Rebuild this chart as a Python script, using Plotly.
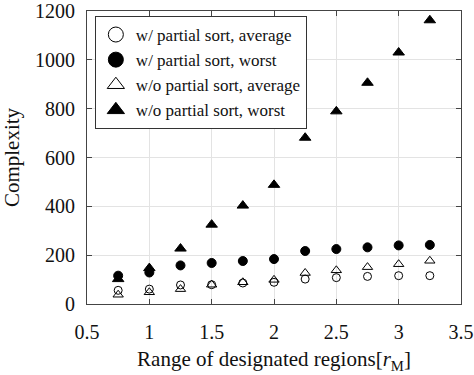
import plotly.graph_objects as go

x_vals = [0.75, 1.0, 1.25, 1.5, 1.75, 2.0, 2.25, 2.5, 2.75, 3.0, 3.25]
ps_avg = [56, 61, 78, 79, 86, 89, 102, 108, 113, 116, 116]
ps_worst = [116, 129, 158, 168, 176, 184, 217, 225, 232, 240, 242]
nops_avg = [38, 48, 61, 79, 89, 99, 127, 138, 151, 163, 177]
nops_worst = [102, 147, 227, 325, 403, 488, 681, 789, 906, 1030, 1162]

names = ["w/ partial sort, average", "w/ partial sort, worst",
         "w/o partial sort, average", "w/o partial sort, worst"]
series = [ps_avg, ps_worst, nops_avg, nops_worst]
symbols = ["circle-open", "circle", "triangle-up-open", "triangle-up"]
sizes = [8, 9, 9, 10]

x_ticks = [0.5, 1, 1.5, 2, 2.5, 3, 3.5]
x_tick_text = ["0.5", "1", "1.5", "2", "2.5", "3", "3.5"]
y_ticks = [0, 200, 400, 600, 800, 1000, 1200]

font_family = "Liberation Serif, Times New Roman, serif"

fig = go.Figure()
for ys, sym, sz in zip(series, symbols, sizes):
    fig.add_trace(go.Scatter(
        x=x_vals, y=ys, mode="markers", showlegend=False,
        marker=dict(symbol=sym, size=sz, color="black",
                    line=dict(color="black", width=1)),
    ))
for name, sym in zip(names, symbols):
    fig.add_trace(go.Scatter(
        x=[None], y=[None], mode="markers", name=name,
        marker=dict(symbol=sym, size=15, color="black",
                    line=dict(color="black", width=1)),
    ))

axis_common = dict(
    showline=True, linecolor="#444", linewidth=1, mirror="ticks",
    ticks="inside", ticklen=5, tickcolor="#444",
    showgrid=True, gridcolor="#e3e3e3", gridwidth=1, zeroline=False,
    automargin=False,
    tickfont=dict(family=font_family, size=20, color="#111"),
)

fig.update_layout(
    width=474, height=375,
    margin=dict(l=87, r=13, t=11, b=71),
    paper_bgcolor="white", plot_bgcolor="white",
    font=dict(family=font_family, size=20, color="#111"),
    xaxis=dict(range=[0.5, 3.5], tickvals=x_ticks, ticktext=x_tick_text,
               ticklabelstandoff=10,
               title=dict(text="Range of designated regions[<i>r</i><sub>M</sub>]",
                          font=dict(family=font_family, size=21), standoff=9),
               **axis_common),
    yaxis=dict(range=[0, 1200], tickvals=y_ticks, ticklabelstandoff=7,
               title=dict(text="Complexity", font=dict(family=font_family, size=21),
                          standoff=14),
               **axis_common),
    legend=dict(x=0.021, y=0.983, xanchor="left", yanchor="top",
                bgcolor="white", bordercolor="#333", borderwidth=1,
                font=dict(family=font_family, size=17, color="#111"),
                tracegroupgap=0, itemwidth=30),
)

fig.write_html("out.html",
               config={"displayModeBar": False},
               post_script="document.body.style.margin='0';document.body.style.overflow='hidden';")
